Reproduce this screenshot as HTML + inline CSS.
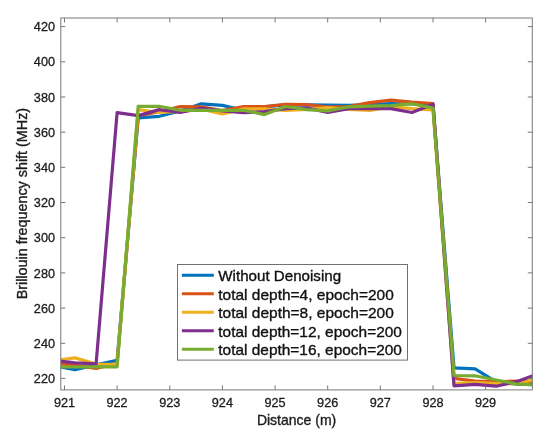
<!DOCTYPE html><html><head><meta charset="utf-8"><title>plot</title><style>html,body{margin:0;padding:0;background:#fff}svg{display:block}text{font-family:"Liberation Sans",Arial,Helvetica,sans-serif;fill:#1c1c1c;stroke:#1c1c1c;stroke-width:0.3px}.t text{stroke-width:0.3px}text.l{stroke-width:0.35px}</style></head><body>
<svg width="550" height="441" viewBox="0 0 550 441">
<rect width="550" height="441" fill="#fff"/>
<defs><clipPath id="c"><rect x="60.8" y="18.0" width="471.5" height="371.9"/></clipPath></defs>
<g clip-path="url(#c)" fill="none" stroke-width="3.2" stroke-linejoin="round">
<polyline stroke="#0072BD" points="54.0,365.6 75.0,369.8 96.1,364.9 117.1,360.3 138.2,117.9 159.3,116.3 180.3,111.0 201.4,103.8 222.4,105.4 243.5,110.2 264.5,106.8 285.6,104.9 306.6,104.9 327.7,105.1 348.8,105.4 369.8,104.7 390.9,103.5 411.9,104.0 433.0,105.1 454.0,367.9 475.1,368.8 496.1,381.8 517.2,384.1 538.3,384.8"/>
<polyline stroke="#D95319" points="54.0,363.1 75.0,365.3 96.1,368.4 117.1,363.3 138.2,115.8 159.3,111.7 180.3,106.6 201.4,106.8 222.4,110.5 243.5,106.5 264.5,106.5 285.6,104.4 306.6,104.5 327.7,107.2 348.8,106.6 369.8,102.6 390.9,100.1 411.9,102.2 433.0,103.5 454.0,378.3 475.1,381.1 496.1,381.8 517.2,381.1 538.3,383.0"/>
<polyline stroke="#EDB120" points="54.0,360.7 75.0,357.9 96.1,364.0 117.1,364.6 138.2,109.6 159.3,112.5 180.3,111.4 201.4,109.3 222.4,114.0 243.5,108.9 264.5,108.9 285.6,110.3 306.6,109.3 327.7,107.5 348.8,109.3 369.8,110.3 390.9,106.6 411.9,108.6 433.0,110.0 454.0,383.7 475.1,382.7 496.1,383.6 517.2,383.6 538.3,378.6"/>
<polyline stroke="#7E2F8E" points="54.0,360.4 75.0,362.8 96.1,363.8 117.1,112.6 138.2,115.6 159.3,109.6 180.3,112.5 201.4,108.1 222.4,111.0 243.5,112.6 264.5,111.7 285.6,108.6 306.6,107.9 327.7,112.5 348.8,108.6 369.8,108.6 390.9,108.6 411.9,112.5 433.0,104.2 454.0,385.8 475.1,384.3 496.1,386.2 517.2,381.4 538.3,373.9"/>
<polyline stroke="#77AC30" points="54.0,366.8 75.0,367.0 96.1,366.8 117.1,366.8 138.2,106.3 159.3,106.3 180.3,110.3 201.4,110.3 222.4,110.3 243.5,110.3 264.5,114.6 285.6,106.5 306.6,109.6 327.7,110.9 348.8,106.8 369.8,106.1 390.9,105.6 411.9,103.7 433.0,108.1 454.0,375.5 475.1,375.8 496.1,380.0 517.2,384.1 538.3,384.8"/>
</g>
<g stroke="#787878" stroke-width="1" fill="none">
<rect x="60.8" y="18.0" width="471.5" height="371.9"/>
<path d="M64.5 389.9v-4.5M64.5 18.0v4.5"/>
<path d="M117.1 389.9v-4.5M117.1 18.0v4.5"/>
<path d="M169.8 389.9v-4.5M169.8 18.0v4.5"/>
<path d="M222.4 389.9v-4.5M222.4 18.0v4.5"/>
<path d="M275.1 389.9v-4.5M275.1 18.0v4.5"/>
<path d="M327.7 389.9v-4.5M327.7 18.0v4.5"/>
<path d="M380.3 389.9v-4.5M380.3 18.0v4.5"/>
<path d="M433.0 389.9v-4.5M433.0 18.0v4.5"/>
<path d="M485.6 389.9v-4.5M485.6 18.0v4.5"/>
<path d="M60.8 378.4h4.5M532.3 378.4h-4.5"/>
<path d="M60.8 343.3h4.5M532.3 343.3h-4.5"/>
<path d="M60.8 308.1h4.5M532.3 308.1h-4.5"/>
<path d="M60.8 272.9h4.5M532.3 272.9h-4.5"/>
<path d="M60.8 237.7h4.5M532.3 237.7h-4.5"/>
<path d="M60.8 202.5h4.5M532.3 202.5h-4.5"/>
<path d="M60.8 167.3h4.5M532.3 167.3h-4.5"/>
<path d="M60.8 132.2h4.5M532.3 132.2h-4.5"/>
<path d="M60.8 97.0h4.5M532.3 97.0h-4.5"/>
<path d="M60.8 61.8h4.5M532.3 61.8h-4.5"/>
<path d="M60.8 26.6h4.5M532.3 26.6h-4.5"/>
</g>
<g font-size="12.7" class="t">
<text x="64.5" y="407.2" text-anchor="middle">921</text>
<text x="117.1" y="407.2" text-anchor="middle">922</text>
<text x="169.8" y="407.2" text-anchor="middle">923</text>
<text x="222.4" y="407.2" text-anchor="middle">924</text>
<text x="275.1" y="407.2" text-anchor="middle">925</text>
<text x="327.7" y="407.2" text-anchor="middle">926</text>
<text x="380.3" y="407.2" text-anchor="middle">927</text>
<text x="433.0" y="407.2" text-anchor="middle">928</text>
<text x="485.6" y="407.2" text-anchor="middle">929</text>
<text x="55" y="383.1" text-anchor="end">220</text>
<text x="55" y="347.9" text-anchor="end">240</text>
<text x="55" y="312.7" text-anchor="end">260</text>
<text x="55" y="277.5" text-anchor="end">280</text>
<text x="55" y="242.3" text-anchor="end">300</text>
<text x="55" y="207.1" text-anchor="end">320</text>
<text x="55" y="171.9" text-anchor="end">340</text>
<text x="55" y="136.8" text-anchor="end">360</text>
<text x="55" y="101.6" text-anchor="end">380</text>
<text x="55" y="66.4" text-anchor="end">400</text>
<text x="55" y="31.2" text-anchor="end">420</text>
</g>
<text x="256.9" y="425.2" font-size="14.2" class="l" textLength="79.4" lengthAdjust="spacingAndGlyphs">Distance (m)</text>
<text transform="translate(26.8,203.6) rotate(-90)" font-size="14.37" class="l" text-anchor="middle">Brillouin frequency shift (MHz)</text>
<rect x="177.5" y="264.5" width="230" height="95.6" fill="#fff" stroke="#707070" stroke-width="1"/>
<path d="M181.9 275.2H213.8" stroke="#0072BD" stroke-width="3.1" fill="none"/>
<text x="218.3" y="281.0" font-size="15" style="stroke-width:0.35px;fill:#111;stroke:#111" textLength="122.8" lengthAdjust="spacingAndGlyphs">Without Denoising</text>
<path d="M181.9 293.7H213.8" stroke="#D95319" stroke-width="3.1" fill="none"/>
<text x="218.3" y="299.5" font-size="15" style="stroke-width:0.35px;fill:#111;stroke:#111" textLength="175.5" lengthAdjust="spacingAndGlyphs">total depth=4, epoch=200</text>
<path d="M181.9 312.2H213.8" stroke="#EDB120" stroke-width="3.1" fill="none"/>
<text x="218.3" y="318.0" font-size="15" style="stroke-width:0.35px;fill:#111;stroke:#111" textLength="175.5" lengthAdjust="spacingAndGlyphs">total depth=8, epoch=200</text>
<path d="M181.9 330.7H213.8" stroke="#7E2F8E" stroke-width="3.1" fill="none"/>
<text x="218.3" y="336.5" font-size="15" style="stroke-width:0.35px;fill:#111;stroke:#111" textLength="183.6" lengthAdjust="spacingAndGlyphs">total depth=12, epoch=200</text>
<path d="M181.9 349.2H213.8" stroke="#77AC30" stroke-width="3.1" fill="none"/>
<text x="218.3" y="355.0" font-size="15" style="stroke-width:0.35px;fill:#111;stroke:#111" textLength="183.6" lengthAdjust="spacingAndGlyphs">total depth=16, epoch=200</text>
</svg></body></html>
